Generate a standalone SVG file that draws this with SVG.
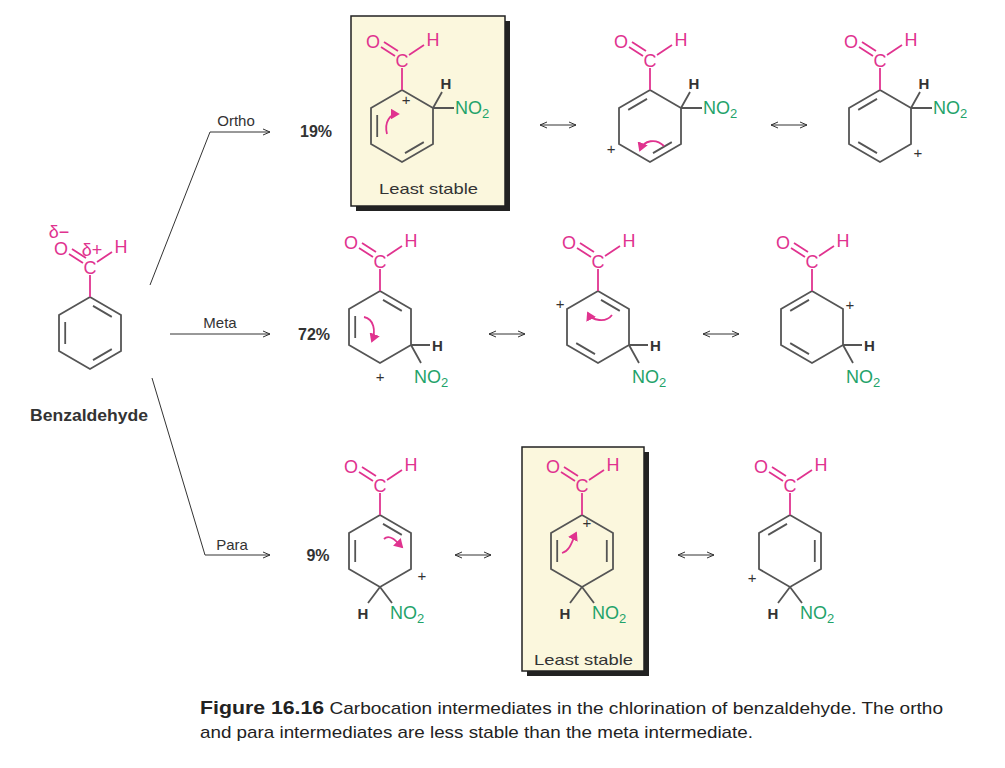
<svg xmlns="http://www.w3.org/2000/svg" width="1005" height="768" viewBox="0 0 1005 768">
<style>
text{font-family:"Liberation Sans",Arial,sans-serif;}
.b{stroke:#555;stroke-width:1.8;fill:none;}
.m{fill:#e0338f;font-size:18px;}
.mb{stroke:#e0338f;stroke-width:1.8;fill:none;}
.g{fill:#1fa36a;font-size:18px;}
.k{fill:#333;font-size:15px;}
.p{fill:#333;font-size:16px;font-weight:bold;}
.lab{fill:#333;font-size:15px;}
.box{fill:#fbf7dd;stroke:#222;stroke-width:1.5;}
.sh{fill:#222;}
.cv{stroke:#e0338f;stroke-width:1.8;fill:none;marker-end:url(#ma);}
</style>
<defs>
<marker id="ma" markerWidth="6" markerHeight="6" refX="4" refY="3" orient="auto"><path d="M0,0L5,3L0,6z" fill="#e0338f"/></marker>
<marker id="ah" markerWidth="8" markerHeight="8" refX="7" refY="4" orient="auto"><path d="M0,1L7,4L0,7" fill="none" stroke="#333" stroke-width="1"/></marker>
<marker id="as" markerWidth="8" markerHeight="8" refX="1" refY="4" orient="auto"><path d="M8,1L1,4L8,7" fill="none" stroke="#333" stroke-width="1"/></marker>
<path id="hex" d="M0,-36L31,-18L31,18L0,36L-31,18L-31,-18Z"/>
<g id="cho">
<path class="mb" d="M0,-36V-58"/>
<path class="mb" d="M-21,-79L-7,-70M-18,-84L-4,-75M7,-71L22,-81"/>
<text class="m" x="0" y="-59" text-anchor="middle">C</text>
<text class="m" x="-29" y="-78" text-anchor="middle">O</text>
<text class="m" x="31" y="-80" text-anchor="middle">H</text>
</g>
<g id="orthoSub">
<path class="b" d="M31,-18L40,-34M31,-18H52"/>
<text class="k" x="44" y="-37" text-anchor="middle" font-weight="bold">H</text>
<text class="g" x="53" y="-12">NO<tspan font-size="13" dy="4">2</tspan></text>
</g>
<g id="metaSub">
<path class="b" d="M31,18H50M31,18L41,36"/>
<text class="k" x="52" y="24" font-weight="bold">H</text>
<text class="g" x="34" y="56">NO<tspan font-size="13" dy="4">2</tspan></text>
</g>
<g id="paraSub">
<path class="b" d="M0,36L-12,52M0,36L12,52"/>
<text class="k" x="-17" y="68" text-anchor="middle" font-weight="bold">H</text>
<text class="g" x="10" y="68">NO<tspan font-size="13" dy="4">2</tspan></text>
</g>
</defs>

<g id="boxes">
<rect class="sh" x="356" y="21" width="154" height="190"/>
<rect class="box" x="351" y="16" width="154" height="190"/>
<text x="379" y="194" class="lab" font-size="16" textLength="99" lengthAdjust="spacingAndGlyphs">Least stable</text>
<rect class="sh" x="527" y="452" width="122" height="224"/>
<rect class="box" x="522" y="447" width="122" height="224"/>
<text x="534" y="665" class="lab" font-size="16" textLength="99" lengthAdjust="spacingAndGlyphs">Least stable</text>
</g>

<g id="benzaldehyde" transform="translate(90,333)">
<use href="#hex" class="b"/>
<path class="b" d="M3,-27.1L21.8,-16.1M-24.8,10.9V-10.9M21.8,16.1L3,27.1"/>
<use href="#cho"/>
<text class="m" x="-31" y="-95" font-size="12" text-anchor="middle">δ−</text>
<text class="m" x="2" y="-77" font-size="12" text-anchor="middle">δ+</text>
<text x="-60" y="88" fill="#333" font-size="16" font-weight="bold" textLength="118" lengthAdjust="spacingAndGlyphs">Benzaldehyde</text>
</g>

<g id="connectors">
<path d="M150,285L210,132H270" stroke="#333" stroke-width="1" fill="none" marker-end="url(#ah)"/>
<path d="M170,334H270" stroke="#333" stroke-width="1" fill="none" marker-end="url(#ah)"/>
<path d="M152,378L205,555H270" stroke="#333" stroke-width="1" fill="none" marker-end="url(#ah)"/>
<g stroke="#333" stroke-width="1" fill="none" marker-end="url(#ah)" marker-start="url(#as)">
<path d="M540,125H576"/><path d="M771,125H807"/>
<path d="M489,334H525"/><path d="M703,334H739"/>
<path d="M455,555H491"/><path d="M678,555H714"/>
</g>
</g>

<g id="labels">
<text class="lab" x="236" y="126" text-anchor="middle">Ortho</text>
<text class="lab" x="220" y="328" text-anchor="middle">Meta</text>
<text class="lab" x="232" y="550" text-anchor="middle">Para</text>
<text class="p" x="316" y="137" text-anchor="middle">19%</text>
<text class="p" x="314" y="340" text-anchor="middle">72%</text>
<text class="p" x="318" y="561" text-anchor="middle">9%</text>
</g>

<g id="ortho1" transform="translate(402,126)">
<use href="#hex" class="b"/>
<path class="b" d="M-24.8,10.9V-10.9M21.8,16.1L3,27.1"/>
<use href="#cho"/><use href="#orthoSub"/>
<text class="k" x="4" y="-21" text-anchor="middle" font-size="13">+</text>
<path class="cv" d="M-15,8C-18,-4,-12,-12,-4,-12"/>
</g>
<g id="ortho2" transform="translate(650,126)">
<use href="#hex" class="b"/>
<path class="b" d="M-21.8,-16.1L-3,-27.1M21.8,16.1L3,27.1"/>
<use href="#cho"/><use href="#orthoSub"/>
<text class="k" x="-39" y="28" text-anchor="middle" font-size="13">+</text>
<path class="cv" d="M14,20C6,12,-6,14,-10,24"/>
</g>
<g id="ortho3" transform="translate(880,126)">
<use href="#hex" class="b"/>
<path class="b" d="M-21.8,-16.1L-3,-27.1M-3,27.1L-21.8,16.1"/>
<use href="#cho"/><use href="#orthoSub"/>
<text class="k" x="38" y="32" text-anchor="middle" font-size="13">+</text>
</g>

<g id="meta1" transform="translate(380,327)">
<use href="#hex" class="b"/>
<path class="b" d="M3,-27.1L21.8,-16.1M-24.8,10.9V-10.9"/>
<use href="#cho"/><use href="#metaSub"/>
<text class="k" x="0" y="55" text-anchor="middle" font-size="13">+</text>
<path class="cv" d="M-16,-10C-6,-8,-4,4,-8,14"/>
</g>
<g id="meta2" transform="translate(598,327)">
<use href="#hex" class="b"/>
<path class="b" d="M3,-27.1L21.8,-16.1M-3,27.1L-21.8,16.1"/>
<use href="#cho"/><use href="#metaSub"/>
<text class="k" x="-38" y="-18" text-anchor="middle" font-size="13">+</text>
<path class="cv" d="M14,-12C8,-4,-6,-6,-10,-14"/>
</g>
<g id="meta3" transform="translate(812,327)">
<use href="#hex" class="b"/>
<path class="b" d="M-21.8,-16.1L-3,-27.1M-3,27.1L-21.8,16.1"/>
<use href="#cho"/><use href="#metaSub"/>
<text class="k" x="38" y="-17" text-anchor="middle" font-size="13">+</text>
</g>

<g id="para1" transform="translate(380,551)">
<use href="#hex" class="b"/>
<path class="b" d="M3,-27.1L21.8,-16.1M-24.8,10.9V-10.9"/>
<use href="#cho"/><use href="#paraSub"/>
<text class="k" x="42" y="30" text-anchor="middle" font-size="13">+</text>
<path class="cv" d="M4,-12C10,-18,18,-8,22,-4"/>
</g>
<g id="para2" transform="translate(582,551)">
<use href="#hex" class="b"/>
<path class="b" d="M-24.8,10.9V-10.9M24.8,-10.9V10.9"/>
<use href="#cho"/><use href="#paraSub"/>
<text class="k" x="5" y="-23" text-anchor="middle" font-size="13">+</text>
<path class="cv" d="M-20,2C-12,0,-10,-10,-6,-18"/>
</g>
<g id="para3" transform="translate(790,551)">
<use href="#hex" class="b"/>
<path class="b" d="M-21.8,-16.1L-3,-27.1M24.8,-10.9V10.9"/>
<use href="#cho"/><use href="#paraSub"/>
<text class="k" x="-38" y="32" text-anchor="middle" font-size="13">+</text>
</g>

<g id="caption" fill="#222" font-size="17">
<text x="200" y="714" textLength="743" lengthAdjust="spacingAndGlyphs"><tspan font-weight="bold" font-size="19">Figure 16.16</tspan> Carbocation intermediates in the chlorination of benzaldehyde. The ortho</text>
<text x="200" y="738" textLength="553" lengthAdjust="spacingAndGlyphs">and para intermediates are less stable than the meta intermediate.</text>
</g>
</svg>
